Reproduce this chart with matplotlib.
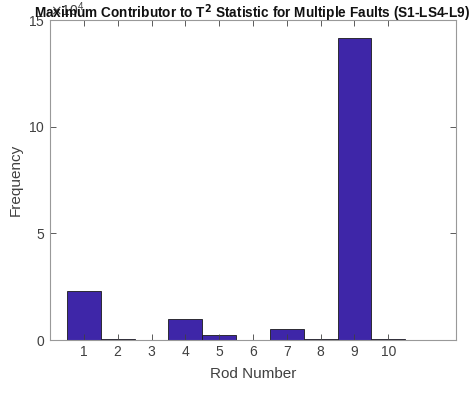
import matplotlib
matplotlib.use("Agg")
import matplotlib.pyplot as plt
from matplotlib.ticker import ScalarFormatter

rods = [1, 2, 3, 4, 5, 6, 7, 8, 9, 10]
counts = [23100, 300, 0, 9800, 2200, 0, 5300, 300, 141500, 400]
xticks = [1, 2, 3, 4, 5, 6, 7, 8, 9, 10]
yticks = [0, 50000, 100000, 150000]

plt.rcParams['font.family'] = ['Liberation Sans', 'DejaVu Sans']

fig = plt.figure(figsize=(4.74, 3.99), dpi=100)
ax = fig.add_axes([50/474, 1-340/399, 406/474, 320/399])
ax.bar(rods, counts, width=1.0, color='#3E26A8', edgecolor='#1a1a1a', linewidth=0.6)
ax.set_xlim(0, 12)
ax.set_ylim(0, 150000)
ax.set_xticks(xticks)
ax.set_yticks(yticks)
fmt = ScalarFormatter(useMathText=True)
fmt.set_powerlimits((4, 4))
ax.yaxis.set_major_formatter(fmt)
ax.yaxis.get_offset_text().set_fontsize(10)
ax.yaxis.get_offset_text().set_color('#404040')
ax.tick_params(direction='in', top=True, right=True, labelsize=10, colors='#404040', length=4, width=0.6)
for s in ax.spines.values():
    s.set_color('#999999')
    s.set_linewidth(0.8)
ax.set_xlabel('Rod Number', fontsize=11, color='#404040', labelpad=6)
ax.set_ylabel('Frequency', fontsize=11, color='#404040', labelpad=4)
fig.text(252/474, 1-13/399,
         'Maximum Contributor to T$^\\mathbf{2}$ Statistic for Multiple Faults (S1-LS4-L9)',
         fontsize=9.8, fontweight='bold', color='#111111', ha='center', va='center')
fig.savefig('out.png', dpi=100)
